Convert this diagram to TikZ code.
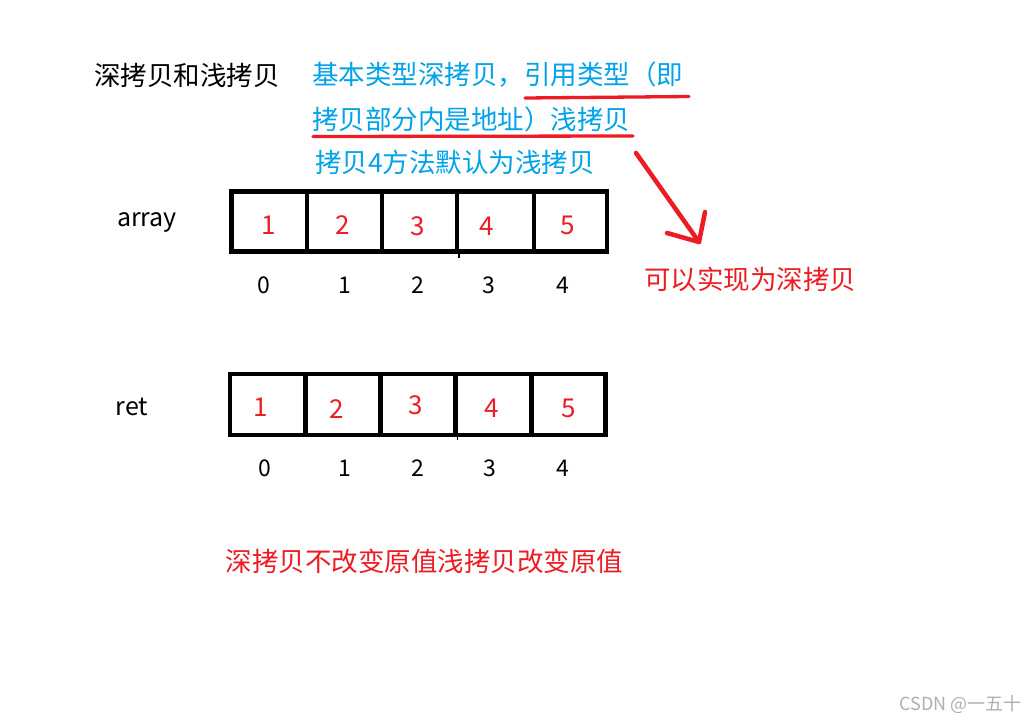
\documentclass[tikz,border=0pt]{standalone}
\usepackage{fontspec}
\setmainfont{Noto Sans CJK SC}
\definecolor{myred}{RGB}{237,28,36}
\definecolor{myblue}{RGB}{0,162,232}
\definecolor{wmgray}{RGB}{175,175,175}
\begin{document}
\begin{tikzpicture}[x=1pt,y=-1pt,
  cell/.style={draw, line width=4.3pt, minimum height=60pt, inner sep=0pt, anchor=center},
  cjk/.style={font=\fontsize{26.5}{30}\selectfont, inner sep=0pt, anchor=west},
  val/.style={text=myred, font=\fontsize{26}{30}\selectfont, inner sep=0pt},
  idx/.style={font=\fontsize{23}{27}\selectfont, inner sep=0pt},
  lbl/.style={font=\fontsize{25}{28}\selectfont, inner sep=0pt, anchor=base},
  redline/.style={draw=myred, line width=3.3pt, line cap=round, line join=round},
  arrowline/.style={draw=myred, line width=4.5pt, line cap=round, line join=round}]
\useasboundingbox (0,0) rectangle (1030,723);
\fill[white] (0,0) rectangle (1030,723);

% title and notes
\node[cjk] (title) at (94,75) {深拷贝和浅拷贝};
\node[cjk, text=myblue] (n1) at (312,75) {基本类型深拷贝，引用类型（即};
\node[cjk, text=myblue] (n2) at (312,119) {拷贝部分内是地址）浅拷贝};
\node[cjk, text=myblue] (n3) at (315,162) {拷贝4方法默认为浅拷贝};

% underlines
\draw[redline] (525,98) -- (689,96.5);
\draw[redline] (313,136.5) -- (633,136);

% arrow
\coordinate (as) at (636,153);
\coordinate (at) at (699,242);
\coordinate (ah1) at (705,212);
\coordinate (ah2) at (667,233);
\draw[arrowline] (as) -- (at);
\draw[arrowline] (ah1) -- (at) -- (ah2);
\node[cjk, text=myred] (deep) at (644,279) {可以实现为深拷贝};

% array
\node[lbl] (arrlbl) at (147,226) {array};
\node[cell, minimum width=75.5pt] (a1) at (269.25,221.5) {};
\node[cell, minimum width=75pt] (a2) at (344.5,221.5) {};
\node[cell, minimum width=75pt] (a3) at (419.5,221.5) {};
\node[cell, minimum width=77pt] (a4) at (495.5,221.5) {};
\node[cell, minimum width=73pt] (a5) at (570.5,221.5) {};
\draw[line width=1.5pt] (a3.south east) -- ++(0,4);
\node[val] (av1) at (269,225) {1};
\node[val] (av2) at (342.5,225) {2};
\node[val] (av3) at (418,226.5) {3};
\node[val] (av4) at (487,226) {4};
\node[val] (av5) at (568,225) {5};
\node[idx] (ai0) at (264,285) {0};
\node[idx] (ai1) at (345,285) {1};
\node[idx] (ai2) at (418,285) {2};
\node[idx] (ai3) at (489,285) {3};
\node[idx] (ai4) at (563,285) {4};

% ret
\node[lbl] (retlbl) at (132,415) {ret};
\node[cell, minimum width=75.8pt, minimum height=61pt] (r1) at (267.6,404.5) {};
\node[cell, minimum width=75pt, minimum height=61pt] (r2) at (343,404.5) {};
\node[cell, minimum width=75pt, minimum height=61pt] (r3) at (418,404.5) {};
\node[cell, minimum width=76pt, minimum height=61pt] (r4) at (493.5,404.5) {};
\node[cell, minimum width=74pt, minimum height=61pt] (r5) at (568.5,404.5) {};
\draw[line width=1.5pt] (r3.south east) -- ++(0,3);
\node[val] (rv1) at (260.7,407.5) {1};
\node[val] (rv2) at (336.7,409) {2};
\node[val] (rv3) at (416,405) {3};
\node[val] (rv4) at (491.7,408) {4};
\node[val] (rv5) at (568.3,408) {5};
\node[idx] (ri0) at (265,468) {0};
\node[idx] (ri1) at (345,468) {1};
\node[idx] (ri2) at (418,468) {2};
\node[idx] (ri3) at (490,468) {3};
\node[idx] (ri4) at (563,468) {4};

% conclusion
\node[cjk, text=myred] (concl) at (225.5,561) {深拷贝不改变原值浅拷贝改变原值};

% watermark
\node[font=\fontsize{18}{20}\selectfont, text=wmgray, inner sep=0pt, anchor=east] (wm) at (1022,704) {CSDN @一五十};
\end{tikzpicture}
\end{document}
